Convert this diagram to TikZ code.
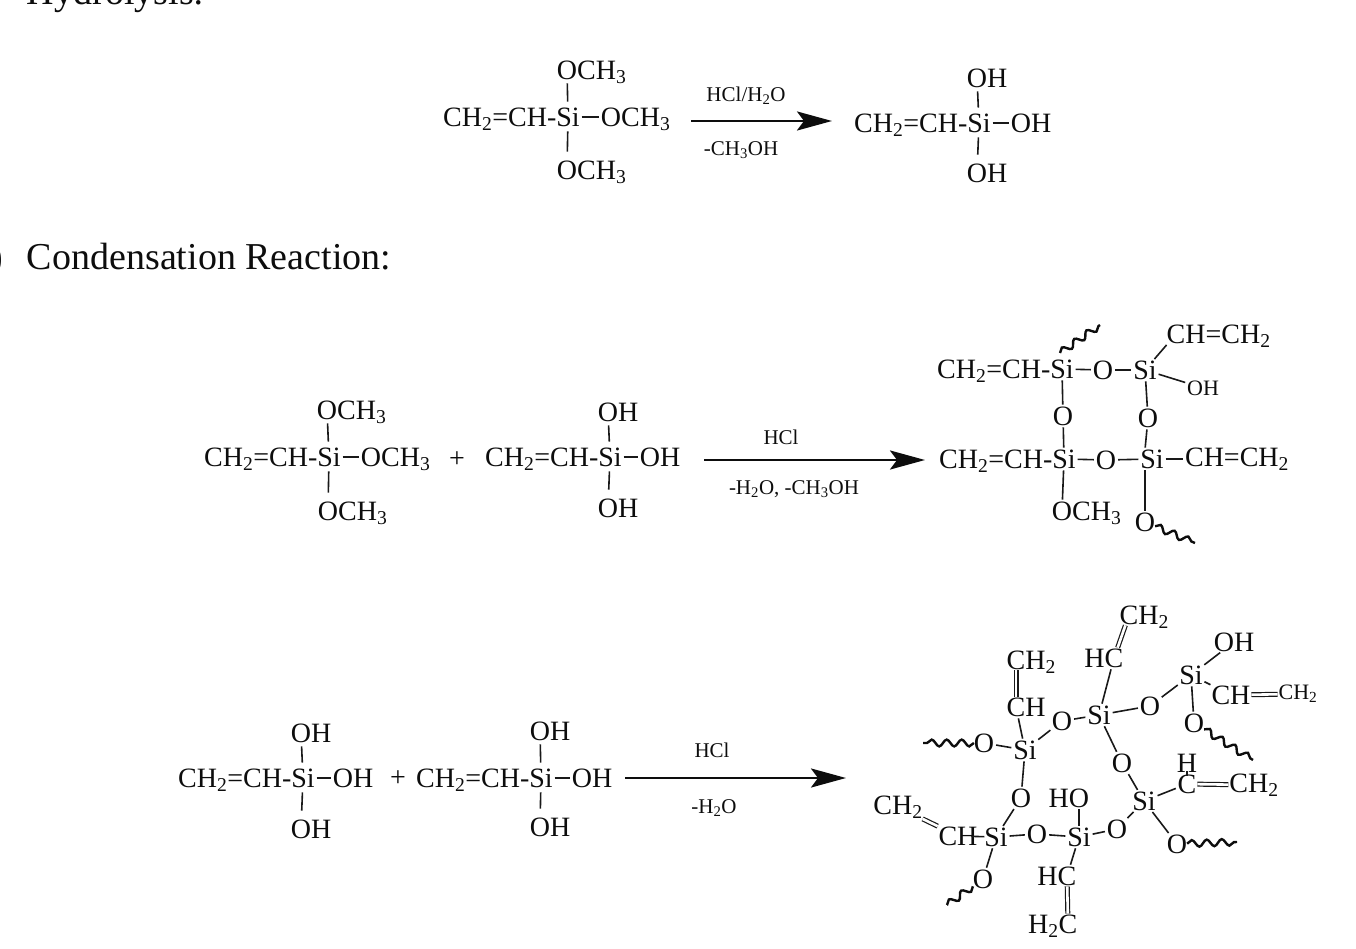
\documentclass[tikz,border=0pt]{standalone}
\usepackage{fontspec}
\setmainfont{Liberation Serif}
\usetikzlibrary{arrows.meta}
\usetikzlibrary{positioning, decorations.pathmorphing}

\begin{document}
\begin{tikzpicture}[x=1pt,y=-1pt,every node/.style = {inner sep=0pt, outer sep=0pt, text=black!95}]

\tikzstyle{heading}=[font=\fontsize{38}{40}\selectfont, anchor=base west]
\tikzstyle{atom}=[font=\fontsize{28}{30}\selectfont]
\tikzstyle{atom_small}=[font=\fontsize{22}{24}\selectfont]
\tikzstyle{condition}=[font=\fontsize{21}{23}\selectfont]
\tikzstyle{bond}=[line width=1.6pt, black!90, shorten <=2pt, shorten >=2pt]
\tikzstyle{bond_up}=[bond, shorten <=6pt, shorten >=4pt]
\tikzstyle{bond_down}=[bond, shorten <=5pt, shorten >=9pt]
\tikzstyle{double_bond}=[line width=1.2pt, black!90, double, double distance=2.6pt, shorten <=1pt, shorten >=1pt]
\tikzstyle{wavy_bond}=[line width=2.4pt, black!95, decorate, decoration={snake, amplitude=3.4pt, segment length=15pt}]
\tikzstyle{reaction_arrow}=[line width=2.8pt, black!95, -{Stealth[length=35pt, width=19pt, inset=7pt]}]

\useasboundingbox (0,0) rectangle (1356,949);

\node[heading] (title_a) at (27,5) {Hydrolysis:};
\node[heading] (title_b) at (27,270) {Condensation Reaction:};
\node[heading, anchor=base east] (tag_b) at (3,270) {b)};

\node[atom] (si1) at (568,117) {Si};
\node[atom, base left=0pt of si1] (vinyl1) {CH\textsubscript{2}=CH-};
\node[atom] (o1) at (567,70) {O};
\node[atom, base right=0pt of o1] (me1) {CH\textsubscript{3}};
\node[atom] (o2) at (611,117) {O};
\node[atom, base right=0pt of o2] (me2) {CH\textsubscript{3}};
\node[atom] (o3) at (567,170) {O};
\node[atom, base right=0pt of o3] (me3) {CH\textsubscript{3}};
\draw[bond_up] (si1) -- (o1);
\draw[bond] (si1) -- (o2);
\draw[bond_down] (si1) -- (o3);

\coordinate (arrow1a) at (691,121);
\coordinate (arrow1b) at (832,121);
\draw[reaction_arrow] (arrow1a) -- (arrow1b);
\node[condition] (cond1a) at (746,96) {HCl/H\textsubscript{2}O};
\node[condition] (cond1b) at (741,150) {-CH\textsubscript{3}OH};

\node[atom] (si2) at (979,123) {Si};
\node[atom, base left=0pt of si2] (vinyl2) {CH\textsubscript{2}=CH-};
\node[atom] (o13) at (977,78) {O};
\node[atom, base right=0pt of o13] (h13) {H};
\node[atom] (oh2) at (1031,123) {OH};
\node[atom] (o14) at (977,173) {O};
\node[atom, base right=0pt of o14] (h14) {H};
\draw[bond_up] (si2) -- (o13);
\draw[bond] (si2) -- (oh2);
\draw[bond_down] (si2) -- (o14);

\node[atom] (si3) at (329,457) {Si};
\node[atom, base left=0pt of si3] (vinyl3) {CH\textsubscript{2}=CH-};
\node[atom] (o4) at (327,410) {O};
\node[atom, base right=0pt of o4] (me4) {CH\textsubscript{3}};
\node[atom] (o5) at (371,457) {O};
\node[atom, base right=0pt of o5] (me5) {CH\textsubscript{3}};
\node[atom] (o6) at (328,511) {O};
\node[atom, base right=0pt of o6] (me6) {CH\textsubscript{3}};
\draw[bond_up] (si3) -- (o4);
\draw[bond] (si3) -- (o5);
\draw[bond_down] (si3) -- (o6);
\node[atom] (plus1) at (457,460) {+};

\node[atom] (si4) at (610,457) {Si};
\node[atom, base left=0pt of si4] (vinyl4) {CH\textsubscript{2}=CH-};
\node[atom] (o7) at (608,412) {O};
\node[atom, base right=0pt of o7] (h7) {H};
\node[atom] (oh5) at (660,457) {OH};
\node[atom] (o8) at (608,508) {O};
\node[atom, base right=0pt of o8] (h8) {H};
\draw[bond_up] (si4) -- (o7);
\draw[bond] (si4) -- (oh5);
\draw[bond_down] (si4) -- (o8);

\coordinate (arrow2a) at (704,460);
\coordinate (arrow2b) at (925,460);
\draw[reaction_arrow] (arrow2a) -- (arrow2b);
\node[condition] (cond2a) at (781,437) {HCl};
\node[condition] (cond2b) at (794,489) {-H\textsubscript{2}O, -CH\textsubscript{3}OH};

\node[atom] (si21) at (1062,369) {Si};
\node[atom, base left=0pt of si21] (vinyl21) {CH\textsubscript{2}=CH-};
\node[atom] (o21) at (1103,370) {O};
\node[atom] (si22) at (1145,370) {Si};
\node[atom] (c21) at (1176,334) {C};
\node[atom, base right=0pt of c21] (vinyl22) {H=CH\textsubscript{2}};
\node[atom_small] (oh21) at (1203,388) {OH};
\node[atom] (o22) at (1063,416) {O};
\node[atom] (o23) at (1148,418) {O};
\node[atom] (si23) at (1064,459) {Si};
\node[atom, base left=0pt of si23] (vinyl23) {CH\textsubscript{2}=CH-};
\node[atom] (o24) at (1106,460) {O};
\node[atom] (si24) at (1152,459) {Si};
\node[atom] (vinyl24) at (1237,459) {CH=CH\textsubscript{2}};
\node[atom] (o25) at (1062,511) {O};
\node[atom, base right=0pt of o25] (me25) {CH\textsubscript{3}};
\node[atom] (o26) at (1145,522) {O};
\coordinate (end21) at (1100,325);
\coordinate (start21) at (1060,353);
\coordinate (end22) at (1195,543);
\draw[bond] (si21) -- (o21);
\draw[bond] (o21) -- (si22);
\draw[bond] (si22) -- (c21);
\draw[bond] (si22) -- (oh21);
\draw[bond] (si21) -- (o22);
\draw[bond] (o22) -- (si23);
\draw[bond] (si22) -- (o23);
\draw[bond] (o23) -- (si24.north -| o26);
\draw[bond] (si23) -- (o24);
\draw[bond] (o24) -- (si24);
\draw[bond] (si24) -- (vinyl24);
\draw[bond] (si23) -- (o25);
\draw[bond] (si24.south -| o26) -- (o26);
\draw[wavy_bond] (start21) -- (end21);
\draw[wavy_bond] (o26) -- (end22);

\node[atom] (si5) at (303,778) {Si};
\node[atom, base left=0pt of si5] (vinyl5) {CH\textsubscript{2}=CH-};
\node[atom] (o9) at (301,733) {O};
\node[atom, base right=0pt of o9] (h9) {H};
\node[atom] (oh8) at (353,778) {OH};
\node[atom] (o10) at (301,829) {O};
\node[atom, base right=0pt of o10] (h10) {H};
\draw[bond_up] (si5) -- (o9);
\draw[bond] (si5) -- (oh8);
\draw[bond_down] (si5) -- (o10);
\node[atom] (plus2) at (398,779) {+};

\node[atom] (si6) at (541,778) {Si};
\node[atom, base left=0pt of si6] (vinyl6) {CH\textsubscript{2}=CH-};
\node[atom] (o11) at (540,731) {O};
\node[atom, base right=0pt of o11] (h11) {H};
\node[atom] (oh11) at (592,778) {OH};
\node[atom] (o12) at (540,827) {O};
\node[atom, base right=0pt of o12] (h12) {H};
\draw[bond_up] (si6) -- (o11);
\draw[bond] (si6) -- (oh11);
\draw[bond_down] (si6) -- (o12);

\coordinate (arrow3a) at (625,778);
\coordinate (arrow3b) at (846,778);
\draw[reaction_arrow] (arrow3a) -- (arrow3b);
\node[condition] (cond3a) at (712,750) {HCl};
\node[condition] (cond3b) at (714,808) {-H\textsubscript{2}O};

\node[atom] (si31) at (1099,715) {Si};
\node[atom] (c31) at (1114,658) {C};
\node[atom, base left=0pt of c31] (h31) {H};
\node[atom] (c32) at (1129,615) {C};
\node[atom, base right=0pt of c32] (h32) {H\textsubscript{2}};
\node[atom] (o31) at (1150,706) {O};
\node[atom] (si32) at (1191,675) {Si};
\node[atom] (oh31) at (1234,642) {OH};
\node[atom] (ch31) at (1231,695) {CH};
\node[atom_small] (ch32) at (1298,694) {CH\textsubscript{2}};
\node[atom] (o32) at (1194,723) {O};
\coordinate (end31) at (1253,760);
\node[atom] (c33) at (1016,660) {C};
\node[atom, base right=0pt of c33] (h33) {H\textsubscript{2}};
\node[atom] (c34) at (1016,707) {C};
\node[atom, base right=0pt of c34] (h34) {H};
\node[atom] (si33) at (1025,750) {Si};
\node[atom] (o33) at (984,743) {O};
\coordinate (end32) at (923,743);
\node[atom] (o34) at (1062,721) {O};
\node[atom] (o35) at (1021,798) {O};
\node[atom] (si34) at (996,837) {Si};
\node[atom] (ch35) at (958,836) {CH};
\node[atom] (ch36) at (898,807) {CH\textsubscript{2}};
\node[atom] (o36) at (983,879) {O};
\coordinate (end33) at (947,905);
\node[atom] (o37) at (1037,834) {O};
\node[atom] (si35) at (1079,837) {Si};
\node[atom] (o38) at (1079,798) {O};
\node[atom, base left=0pt of o38] (h38) {H};
\node[atom] (o39) at (1117,829) {O};
\node[atom] (si36) at (1144,801) {Si};
\node[atom] (o40) at (1122,763) {O};
\node[atom] (c37) at (1187,784) {C};
\node[atom] (h37) at (1187,763) {H};
\node[atom] (ch37) at (1254,785) {CH\textsubscript{2}};
\node[atom] (o41) at (1177,844) {O};
\coordinate (end34) at (1237,842);
\node[atom] (c38) at (1067,876) {C};
\node[atom, base left=0pt of c38] (h39) {H};
\node[atom] (c39) at (1068,924) {C};
\node[atom, base left=0pt of c39] (h40) {H\textsubscript{2}};

\draw[bond] (si31) -- (c31);
\draw[double_bond] (c31) -- (c32);
\draw[bond] (si31) -- (o31);
\draw[bond] (o31) -- (si32);
\draw[bond] (si32) -- (oh31);
\draw[bond] (si32) -- (ch31);
\draw[double_bond] (ch31) -- (ch32);
\draw[bond] (si32) -- (o32);
\draw[wavy_bond] (o32) -- (end31);
\draw[double_bond] (c33) -- (c34);
\draw[bond] (c34) -- (si33);
\draw[bond] (o33) -- (si33);
\draw[wavy_bond] (o33) -- (end32);
\draw[bond] (si33) -- (o34);
\draw[bond] (o34) -- (si31);
\draw[bond] (si33) -- (o35);
\draw[bond] (o35) -- (si34);
\draw[bond, shorten <=-6pt, shorten >=0pt] (ch35) -- (si34);
\draw[double_bond] (ch36) -- (ch35);
\draw[bond] (si34) -- (o36);
\draw[wavy_bond] (o36) -- (end33);
\draw[bond] (si34) -- (o37);
\draw[bond] (o37) -- (si35);
\draw[bond] (si35) -- (o38);
\draw[bond] (si35) -- (o39);
\draw[bond] (o39) -- (si36);
\draw[bond] (si31) -- (o40);
\draw[bond] (o40) -- (si36);
\draw[bond] (si36) -- (c37);
\draw[bond, shorten <=-1pt, shorten >=-1pt] (h37) -- (c37);
\draw[double_bond] (c37) -- (ch37);
\draw[bond] (si36) -- (o41);
\draw[wavy_bond] (o41) -- (end34);
\draw[bond] (si35) -- (c38);
\draw[double_bond] (c38) -- (c39);
\end{tikzpicture}
\end{document}
